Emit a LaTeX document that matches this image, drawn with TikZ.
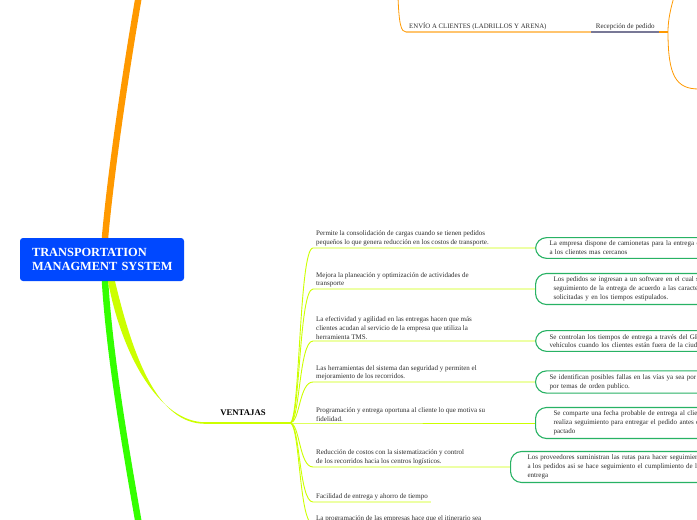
\documentclass[tikz,border=0pt]{standalone}
\usepackage{fontspec}
\setmainfont{Liberation Serif}
\usetikzlibrary{positioning,backgrounds,calc}

\definecolor{tmsblue}{RGB}{0,72,255}
\definecolor{naranja}{RGB}{255,153,0}
\definecolor{naranjaclaro}{RGB}{255,196,110}
\definecolor{verde}{RGB}{51,255,0}
\definecolor{lima}{RGB}{204,255,0}
\definecolor{verdebox}{RGB}{40,178,100}
\definecolor{gristema}{RGB}{120,120,150}
\definecolor{texto}{RGB}{45,45,45}

\tikzset{
  raiz/.style={fill=tmsblue, rounded corners=3pt, minimum width=164pt, minimum height=43pt,
    text width=140pt, inner xsep=12pt, align=left, text=white,
    font=\bfseries\fontsize{12.4}{14}\selectfont},
  rama/.style={anchor=south west, inner xsep=3pt, inner ysep=1.5pt, align=left, text=texto,
    font=\fontsize{7}{8.8}\selectfont},
  detalle/.style={draw=verdebox, line width=1.1pt, rounded corners=11pt, fill=white, anchor=west,
    text width=190pt, align=left, inner ysep=3.5pt, text=texto, font=\fontsize{7}{8.8}\selectfont},
  fan/.style={draw=lima, line width=0.9pt},
  tronco/.style={line width=6.5pt, line cap=round},
}

\begin{document}
\begin{tikzpicture}[x=1pt, y=-1pt]
\useasboundingbox (0,0) rectangle (697,520);

\node[raiz] (tms) at (102,259.5) {\mbox{TRANSPORTATION}\\\mbox{MANAGMENT SYSTEM}};

\coordinate (vj) at (205,423);
\coordinate (hub) at (290,423);
\node[font=\bfseries\fontsize{8.7}{10}\selectfont, text=black] (ventajas) at (243,413) {VENTAJAS};

\foreach \n/\y in {1/248,2/289,3/341,4/382,5/423,6/467,7/502,8/524}
  \coordinate (s\n) at (313,\y);

\node[rama] (v1) at (s1) {Permite la consolidación de cargas cuando se tienen pedidos\\pequeños lo que genera reducción en los costos de transporte.};
\node[rama] (v2) at (s2) {Mejora la planeación y optimización de actividades de\\transporte};
\node[rama] (v3) at (s3) {La efectividad y agilidad en las entregas hacen que más\\clientes acudan al servicio de la empresa que utiliza la\\herramienta TMS.};
\node[rama] (v4) at (s4) {Las herramientas del sistema dan seguridad y permiten el\\mejoramiento de los recorridos.};
\node[rama] (v5) at (s5) {Programación y entrega oportuna al cliente lo que motiva su\\fidelidad.};
\node[rama] (v6) at (s6) {Reducción de costos con la sistematización y control\\de los recorridos hacia los centros logísticos.};
\node[rama] (v7) at (s7) {Facilidad de entrega y ahorro de tiempo};
\node[rama] (v8) at (s8) {La programación de las empresas hace que el itinerario sea};

\node[detalle, inner xsep=14pt] (d1) at (535,248) {La empresa dispone de camionetas para la entrega de\\a los clientes mas cercanos};
\node[detalle, inner xsep=18pt] (d2) at (535,289) {Los pedidos se ingresan a un software en el cual se\\seguimiento de la entrega de acuerdo a las caracterí\\solicitadas y en los tiempos estipulados.};
\node[detalle, inner xsep=14pt] (d3) at (535,341) {Se controlan los tiempos de entrega a través del GPS\\vehículos cuando los clientes están fuera de la ciudad};
\node[detalle, inner xsep=14pt] (d4) at (535,382) {Se identifican posibles fallas en las vías ya sea por cl\\por temas de orden publico.};
\node[detalle, inner xsep=18pt] (d5) at (535,423) {Se comparte una fecha probable de entrega al client\\realiza seguimiento para entregar el pedido antes de\\pactado};
\node[detalle, inner xsep=17pt] (d6) at (510,467) {Los proveedores suministran las rutas para hacer seguimient\\a los pedidos asi se hace seguimiento el cumplimiento de la\\entrega};

\coordinate (e0) at (398,-3);
\coordinate (e1) at (406,32);
\coordinate (k) at (668,32);
\node[rama, font=\fontsize{6.8}{8}\selectfont] (envio) at (e1) {ENVÍO A CLIENTES (LADRILLOS Y ARENA)};
\node[rama, minimum width=68pt] (recep) at (591,32) {Recepción de pedido};

\begin{pgfonlayer}{background}
\draw[tronco, naranja] ([xshift=3pt]tms.north) .. controls (111,170) and (126,70) .. (139,-5);
\draw[tronco, verde] ([xshift=3pt]tms.south) .. controls (110,360) and (126,450) .. (139,525);
\fill[lima] ($(tms.south)+(6,0)$) .. controls +(14,75) and +(-45,0) .. ($(vj)+(0,-0.8)$)
  -- ($(vj)+(0,0.8)$) .. controls +(-48,0) and +(18,75) .. ($(tms.south)+(13,0)$) -- cycle;
\draw[lima, line width=1.5pt] (vj) -- (hub);
\foreach \n in {1,...,6}
  \draw[fan] (hub) .. controls +(10,0) and +(-14,0) .. (s\n) -- (d\n.west);
\draw[fan] (hub) .. controls +(10,0) and +(-14,0) .. (s7) -- (v7.south east);
\draw[fan] (hub) .. controls +(10,0) and +(-14,0) .. (s8) -- ++(220,0);

\draw[naranja, line width=0.8pt] (e0) .. controls (399,24) and (401,32) .. (e1);
\draw[naranjaclaro, line width=1.6pt] (e1) -- (recep.south west);
\draw[gristema, line width=1.6pt] (recep.south west) -- (recep.south east);
\draw[naranja, line width=1.6pt] (recep.south east) -- (k);
\draw[naranja, line width=0.8pt] (674,-3) .. controls (669,14) and (668,24) .. (k)
  .. controls (668,76) and (676,89) .. (699,89);
\end{pgfonlayer}
\end{tikzpicture}
\end{document}
